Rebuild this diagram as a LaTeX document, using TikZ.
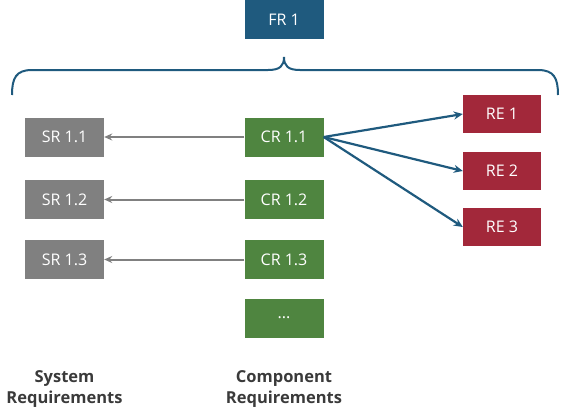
\documentclass[tikz,border=0pt]{standalone}
\usepackage{fontspec}
\setmainfont{Open Sans}
\usetikzlibrary{arrows.meta,positioning}
\definecolor{frblue}{HTML}{1F5A7E}
\definecolor{srgray}{HTML}{808080}
\definecolor{crgreen}{HTML}{4F8540}
\definecolor{rered}{HTML}{A2283A}
\definecolor{labelgray}{HTML}{3A3A3A}
\begin{document}
\begin{tikzpicture}
                    [x=1pt, y=-1pt]
                    \tikzset{box/.style = {draw=none, minimum width=79pt, minimum height=39pt, text=white, font=\fontsize{16}{18}\selectfont},
                             sr/.style = {box, fill=srgray},
                             cr/.style = {box, fill=crgreen},
                             re/.style = {box, fill=rered, minimum width=78pt, minimum height=38pt},
                             grayedge/.style = {draw=srgray, line width=2pt, -{Stealth[length=8pt,width=7pt]}},
                             blueedge/.style = {draw=frblue, line width=2.2pt, -{Stealth[length=9pt,width=8pt]}},
                             caption/.style = {align=center, text=labelgray, font=\bfseries\fontsize{16.5}{21}\selectfont}}
                    \useasboundingbox (0,0) rectangle (570,410);
                    \node[box, fill=frblue] (fr1) at (284,19.5) {FR 1};
                    \node[sr] (sr1) at (64.5,137)  {SR 1.1};
                    \node[sr] (sr2) at (64.5,199.5) {SR 1.2};
                    \node[sr] (sr3) at (64.5,259.5) {SR 1.3};
                    \node[cr] (cr1) at (284,137)  {CR 1.1};
                    \node[cr] (cr2) at (284,199.5) {CR 1.2};
                    \node[cr] (cr3) at (284,259.5) {CR 1.3};
                    \node[cr] (cr4) at (284,318)  {...};
                    \node[re] (re1) at (502,114) {RE 1};
                    \node[re] (re2) at (502,171) {RE 2};
                    \node[re] (re3) at (502,227) {RE 3};
                    \node[caption] (syslabel) at (64.5,389) {System\\Requirements};
                    \node[caption] (complabel) at (284,389) {Component\\Requirements};

                    \draw[frblue, line width=2pt]
                        (12,95) .. controls (12,78) and (16,70) .. (32,70) -- (268,70)
                        .. controls (280,70) and (284,66) .. (284,57)
                        .. controls (284,66) and (288,70) .. (300,70) -- (538,70)
                        .. controls (554,70) and (558,78) .. (558,95);

                    \foreach \from/\to in {cr1/sr1,cr2/sr2,cr3/sr3}
                        \draw[grayedge] (\from) to (\to);
                    \foreach \to in {re1,re2,re3}
                        \draw[blueedge] (cr1.east) to (\to.west);
                \end{tikzpicture}
\end{document}
